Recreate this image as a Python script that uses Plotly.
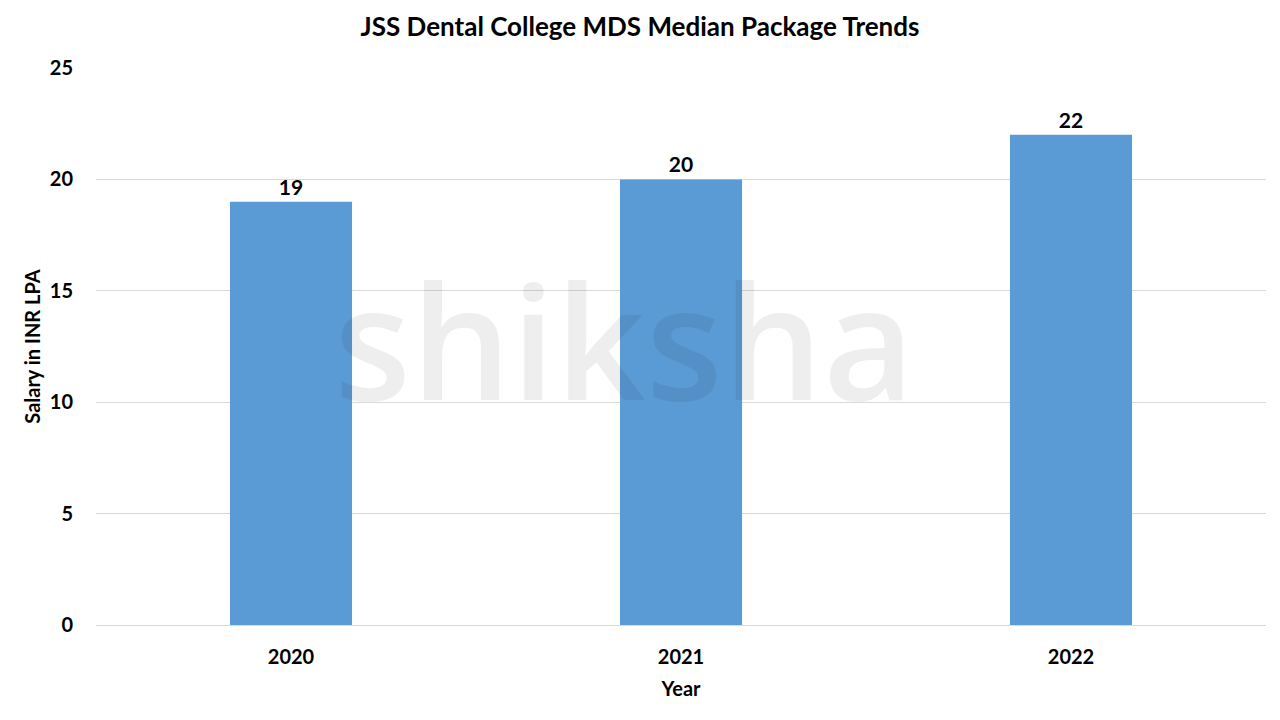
import plotly.graph_objects as go

years = ["2020", "2021", "2022"]
salary = [19, 20, 22]
y_ticks = [0, 5, 10, 15, 20, 25]

FONT = "Lato"
fig = go.Figure()
fig.add_trace(go.Bar(
    x=years, y=salary,
    marker=dict(color="#5B9BD5", line=dict(width=0)),
    text=[str(v) for v in salary],
    textposition="outside",
    textfont=dict(family=FONT, size=21, color="#000000", weight="bold"),
    cliponaxis=False,
    width=0.313,
))

fig.add_annotation(
    text="shiksha", xref="paper", yref="paper", x=0.452, y=0.515,
    showarrow=False,
    font=dict(family="Open Sans", size=158, color="rgba(0,0,0,0.065)", weight=600),
)

fig.update_layout(
    width=1280, height=720,
    paper_bgcolor="white", plot_bgcolor="white",
    margin=dict(l=96, r=14, t=68, b=95),
    showlegend=False,
    title=dict(text="JSS Dental College MDS Median Package Trends",
               x=0.5, xanchor="center", y=0.962, yanchor="middle",
               font=dict(family=FONT, size=26, color="#000000", weight="bold")),
    xaxis=dict(
        title=dict(text="Year", font=dict(family=FONT, size=20, color="#000000", weight="bold"), standoff=14),
        tickfont=dict(family=FONT, size=20, color="#000000", weight="bold"),
        showgrid=False, showline=False, ticks="", ticklabelstandoff=18,
    ),
    yaxis=dict(
        title=dict(text="Salary in INR LPA", font=dict(family=FONT, size=20, color="#000000", weight="bold"), standoff=3),
        tickfont=dict(family=FONT, size=20, color="#000000", weight="bold"),
        range=[0, 25], tickvals=y_ticks, showgrid=True, gridcolor="#D9D9D9", gridwidth=1,
        zeroline=True, zerolinecolor="#D9D9D9", zerolinewidth=1,
        showline=False, ticks="", ticklabelstandoff=22,
    ),
)

fig.write_html("out.html")
